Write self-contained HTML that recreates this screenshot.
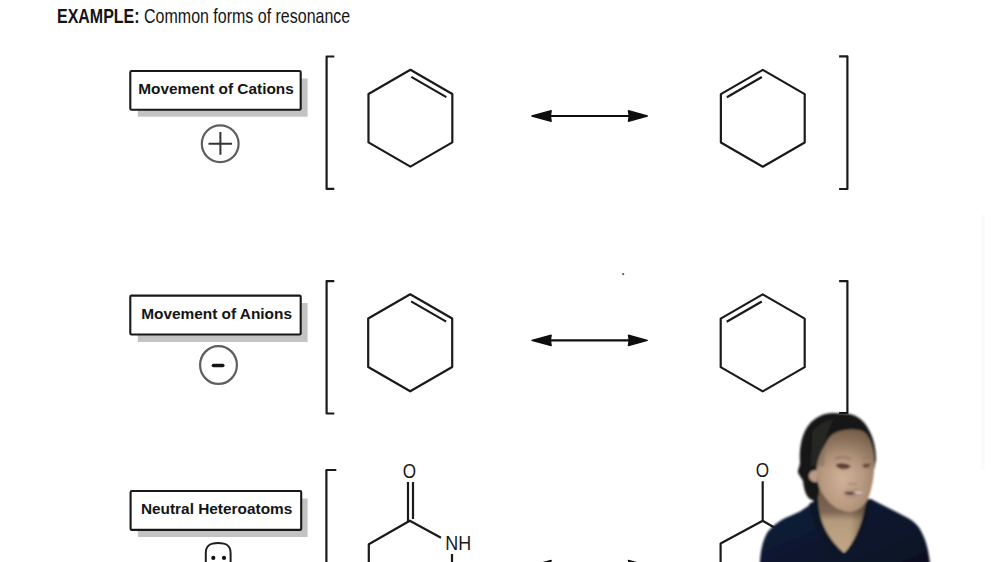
<!DOCTYPE html>
<html><head><meta charset="utf-8">
<style>
html,body{margin:0;padding:0;background:#fff;width:1000px;height:562px;overflow:hidden}
svg{display:block}
text{font-family:"Liberation Sans",sans-serif}
</style></head>
<body>
<svg width="1000" height="562" viewBox="0 0 1000 562">
<rect width="1000" height="562" fill="#fff"/>
<!-- title -->
<g transform="translate(57,22.7) scale(0.788,1)">
<text x="0" y="0" font-size="20.3" fill="#141414"><tspan font-weight="bold">EXAMPLE:</tspan> Common forms of resonance</text>
</g>

<!-- label boxes -->
<g id="box1">
<rect x="137.8" y="78.5" width="169.8" height="38.2" fill="#c3c3c3"/>
<rect x="130.3" y="71" width="170.4" height="38.8" rx="1.2" fill="#fff" stroke="#181818" stroke-width="2.1"/>
<text x="216" y="94.2" font-size="15.4" font-weight="bold" text-anchor="middle" fill="#141414">Movement of Cations</text>
</g>
<g id="box2">
<rect x="137.8" y="303" width="169.8" height="39" fill="#c3c3c3"/>
<rect x="130.3" y="295.6" width="170.4" height="38.9" rx="1.2" fill="#fff" stroke="#181818" stroke-width="2.1"/>
<text x="216.6" y="318.8" font-size="15.4" font-weight="bold" text-anchor="middle" fill="#141414">Movement of Anions</text>
</g>
<g id="box3">
<rect x="137.8" y="498.5" width="169.8" height="38.5" fill="#c3c3c3"/>
<rect x="130.6" y="491" width="170.6" height="38.9" rx="1.2" fill="#fff" stroke="#181818" stroke-width="2.1"/>
<text x="216.6" y="514.3" font-size="15.4" font-weight="bold" text-anchor="middle" fill="#141414">Neutral Heteroatoms</text>
</g>

<!-- charge icons -->
<circle cx="220.2" cy="143.8" r="18.4" fill="none" stroke="#5e5e5e" stroke-width="2.2"/>
<path d="M208.5 143.8H232M220.4 132V154.7" fill="none" stroke="#333" stroke-width="2"/>
<ellipse cx="218.5" cy="365" rx="18.4" ry="18.9" fill="none" stroke="#5e5e5e" stroke-width="2.2"/>
<path d="M213.4 365.6H222.8" fill="none" stroke="#141414" stroke-width="3.5" stroke-linecap="round"/>
<path d="M205.8 562V553C205.8 545.5 210 543 218.2 543C226.4 543 230.6 545.5 230.6 553V562" fill="none" stroke="#1e1e1e" stroke-width="2"/>
<circle cx="213.3" cy="557.9" r="2.1" fill="#111"/>
<circle cx="224" cy="557.9" r="2.1" fill="#111"/>

<!-- brackets & structures -->
<g fill="none" stroke="#1a1a1a" stroke-width="2.2" stroke-linejoin="round">
<path d="M334.3 56.5H326.6V188.9H334.3"/>
<path d="M839.1 56.4H847.4V189H839.1"/>
<path d="M334.3 281.1H326.6V413.5H334.3"/>
<path d="M839.1 281.1H847.4V413H839.1"/>
<path d="M336.3 470H326.4V564"/>

<!-- row1 left hex -->
<path d="M410.40 69.80L452.32 94.00L452.32 142.40L410.40 166.60L368.48 142.40L368.48 94.00Z"/>
<path d="M411.30 76.90L446.32 97.10"/>
<path d="M762.80 69.90L804.72 94.10L804.72 142.50L762.80 166.70L720.88 142.50L720.88 94.10Z"/>
<path d="M761.90 77.00L726.88 97.20"/>
<!-- row2 -->
<path d="M410.20 294.30L452.20 318.55L452.20 367.05L410.20 391.30L368.20 367.05L368.20 318.55Z"/>
<path d="M411.10 301.40L446.20 321.65"/>
<path d="M762.70 294.40L804.70 318.65L804.70 367.15L762.70 391.40L720.70 367.15L720.70 318.65Z"/>
<path d="M761.80 301.50L726.70 321.75"/>

<!-- row3 left -->
<path d="M408 482V521M413 482V519"/>
<path d="M441 537.8L409.8 520.8L368.8 544.2V564"/>
<path d="M452 554V562"/>
<!-- row3 right -->
<path d="M762.7 481.3V520.7L720.6 543.5V564M762.7 520.7L776 528.5"/>
</g>
<text transform="translate(409.4,477.6) scale(0.88,1)" x="0" y="0" font-size="19.5" text-anchor="middle" fill="#1a1a1a">O</text>
<text transform="translate(445.3,550) scale(0.93,1)" x="0" y="0" font-size="19.3" fill="#1a1a1a">NH</text>
<text transform="translate(762.5,477.1) scale(0.88,1)" x="0" y="0" font-size="19.5" text-anchor="middle" fill="#1a1a1a">O</text>

<!-- arrows -->
<g fill="#0e0e0e" stroke="#0e0e0e" stroke-width="1.3" stroke-linejoin="round">
<path d="M545 114.95H635V117.05H545Z" stroke="none"/>
<path d="M531.9 116.00L551.2 110.70Q549.6 116.00 551.2 121.30Z"/>
<path d="M647.3 116.00L628.4 110.70Q630 116.00 628.4 121.30Z"/>
<path d="M545 339.35H635V341.45H545Z" stroke="none"/>
<path d="M531.9 340.40L551.2 335.10Q549.6 340.40 551.2 345.70Z"/>
<path d="M647.3 340.40L628.4 335.10Q630 340.40 628.4 345.70Z"/>
<path d="M531.9 565.60L551.2 560.30Q549.6 565.60 551.2 570.90Z"/>
<path d="M647.3 565.60L628.4 560.30Q630 565.60 628.4 570.90Z"/>
</g>

<circle cx="623.2" cy="274.1" r="1.1" fill="#6a5050"/>
<rect x="981.5" y="215" width="3" height="255" fill="#fafafa"/>
<!-- person -->
<defs>
<filter id="soft" x="-10%" y="-10%" width="120%" height="120%"><feGaussianBlur stdDeviation="0.8"/></filter>
<radialGradient id="skin" cx="0.45" cy="0.6" r="0.7">
<stop offset="0" stop-color="#cfb197"/><stop offset="0.5" stop-color="#b89a80"/><stop offset="1" stop-color="#8f745e"/>
</radialGradient>
<linearGradient id="neck" gradientUnits="userSpaceOnUse" x1="0" y1="486" x2="0" y2="553">
<stop offset="0" stop-color="#6a5442"/><stop offset="0.38" stop-color="#7d6652"/><stop offset="0.52" stop-color="#b59b7d"/><stop offset="1" stop-color="#c2a888"/>
</linearGradient>
<linearGradient id="neckR" gradientUnits="userSpaceOnUse" x1="850" y1="0" x2="866" y2="0">
<stop offset="0" stop-color="#4a3a2c" stop-opacity="0"/><stop offset="1" stop-color="#4a3a2c" stop-opacity="0.5"/>
</linearGradient>
<linearGradient id="fshade" x1="0" y1="0" x2="0" y2="1">
<stop offset="0" stop-color="#5a4634" stop-opacity="0.55"/><stop offset="0.3" stop-color="#5a4634" stop-opacity="0.15"/><stop offset="0.5" stop-color="#5a4634" stop-opacity="0"/>
</linearGradient>
<linearGradient id="shirt" x1="0" y1="0" x2="1" y2="1">
<stop offset="0" stop-color="#10203c"/><stop offset="1" stop-color="#0a0f20"/>
</linearGradient>
</defs>
<g filter="url(#soft)">
<!-- hair back -->
<path d="M800 462C799 450 801 438 806 429C812 419 821 413.5 832 413L847 413.5C857 414.5 865 421 870 432C874 440 876 450 876 460L874 470L840 470L822 480L819 495L818 503L810 499C806 496 804 490 803 481C801 477 797 473 798 470C799 467 800 465 800 462Z" fill="#181817"/>
<path d="M812 432C818 424 826 420 834 419C830 426 827 432 826 440C822 450 820 458 818 466L811 466Z" fill="#262523"/>
<!-- neck -->
<path d="M820 486H868L866 502C864 515 862 525 858 533C854 541 849 548 844 553C838 549 832 543 828 537C823 529 820 520 819 510L818 499Z" fill="url(#neck)"/>
<path d="M820 486H868L866 502C864 515 862 525 858 533C854 541 849 548 844 553C838 549 832 543 828 537C823 529 820 520 819 510L818 499Z" fill="url(#neckR)"/>
<!-- shirt -->
<path d="M759.5 572L760 562C760.5 552 762.5 541 767 533C772 526 780 520 790 516L800 511.5L812 503.4L818 499L819 510C820 520 823 529 828 537C832 543 838 549 844 553C849 548 854 541 858 533C862 525 864 515 866 502L866 499L871 499C882 505 895 511 906 517C914 521 919 526 922 533C926 541 929 550 931 572Z" fill="url(#shirt)"/>
<path d="M809 504L818 499C819 520 826 537 844 553L839 559C826 546 814 532 809 504Z" fill="#0d1325"/>
<path d="M866 499L873 502C871 522 862 540 849 553L845 553C855 540 864 522 866 499Z" fill="#0f1628"/>
<!-- face -->
<path d="M830 437C836 430 854 427 864 432C870 437 873 446 874 456C875 470 873 486 868 499C863 508 856 512 849 512C840 511 832 506 827 500C823 495 820 490 818.7 486C817.5 480 816.5 474 816.8 468C817.5 461 820 453 824 447C826 443 828 440 830 437Z" fill="url(#skin)"/>
<path d="M830 437C836 430 854 427 864 432C870 437 873 446 874 456C875 470 873 486 868 499C863 508 856 512 849 512C840 511 832 506 827 500C823 495 820 490 818.7 486C817.5 480 816.5 474 816.8 468C817.5 461 820 453 824 447C826 443 828 440 830 437Z" fill="url(#fshade)"/>
<path d="M817 466C819 456 823 447 830 437C826 447 825 456 824 466Z" fill="#8a7262" opacity="0.7"/>
<!-- ear -->
<path d="M817.5 470.5C812.5 469.5 808.5 472.5 809 476.5C809.5 480 812.5 482.5 817.5 482Z" fill="#bb9a86"/>
<!-- brows -->
<path d="M835 459Q843 455.5 851 459.5" fill="none" stroke="#9a7865" stroke-width="2"/>
<path d="M863 458.5Q868 456 873 457.5" fill="none" stroke="#9a7865" stroke-width="1.8"/>
<!-- eyes -->
<path d="M835.5 465Q843 462 850.5 466Q849 469.5 843 469.5Q838 469 835.5 465Z" fill="#6a4a3c"/>
<path d="M836.5 465.2Q843 463 850 466.5" fill="none" stroke="#3e2820" stroke-width="1.6"/>
<path d="M862 465Q867 462.5 871 464.5Q869 468 865 468Q863 467.5 862 465Z" fill="#6a4a3c"/>
<!-- nose shadow -->
<path d="M851 470C852 475 853 479 851 483" fill="none" stroke="#c6a691" stroke-width="3.5"/>
<path d="M848 483.5Q852 485 857 483.5" fill="none" stroke="#a68270" stroke-width="1.6"/>
<!-- mouth -->
<path d="M843 492C848 488 858 487.5 865 490C863 496 857 498.5 851 498C846 497.5 843.5 495 843 492Z" fill="#b39080"/>
<path d="M844 492.8C848 491.5 853 492 856 493.5C852 495.2 847 494.8 844 492.8Z" fill="#3e2622"/>
<path d="M853.5 492.3C857 491.3 860.5 491.3 863.5 492C860 494.3 856.5 494.3 853.5 492.3Z" fill="#dccbc2"/>
</g>
</svg>
</body></html>
